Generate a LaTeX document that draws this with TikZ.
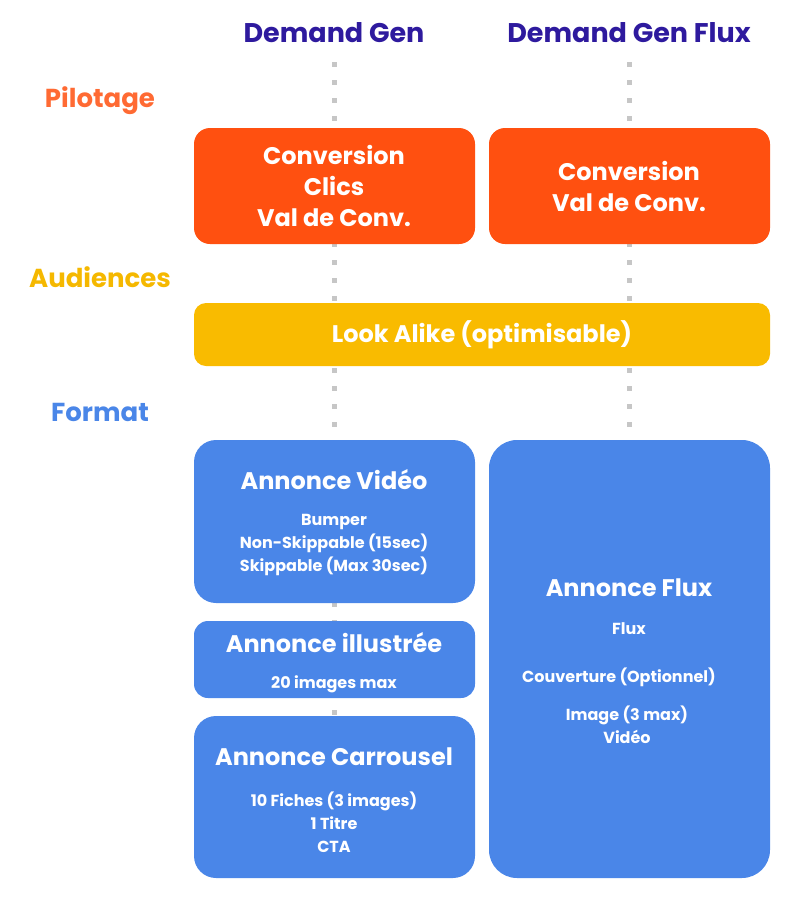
\documentclass[tikz,border=0pt]{standalone}
\usepackage{fontspec}
\setmainfont{Poppins}
\begin{document}
\begin{tikzpicture}[x=1pt,y=-1pt,
 big/.style={font=\fontsize{24}{31}\selectfont\bfseries},
 sm/.style={font=\fontsize{16}{23}\selectfont\bfseries},
 lab/.style={font=\fontsize{26}{30}\selectfont\bfseries},
 hd/.style={font=\fontsize{27}{30}\selectfont\bfseries},
 dots/.style={draw=gray!45,line width=5pt,dash pattern=on 5pt off 13pt}]
\definecolor{og}{HTML}{FF5010}\definecolor{yl}{HTML}{F9BB00}\definecolor{bl}{HTML}{4A86E8}
\definecolor{pu}{HTML}{2E1A9E}\definecolor{ol}{HTML}{FF6A33}\definecolor{yt}{HTML}{F5B800}
\useasboundingbox (0,0) rectangle (801,900);
\coordinate (t1) at (334,62); \coordinate (b1) at (334,716);
\coordinate (t2) at (629,62); \coordinate (b2) at (629,440);
\draw[dots] (t1) -- (b1); \draw[dots] (t2) -- (b2);
\node[hd,text=pu] (h1) at (334,33) {Demand Gen};
\node[hd,text=pu] (h2) at (629,33) {Demand Gen Flux};
\node[lab,text=ol] (p) at (100,101) {Pilotage};
\node[lab,text=yt] (a) at (100,277) {Audiences};
\node[lab,text=bl] (f) at (100,412) {Format};
\fill[og,rounded corners=16pt] (194,128) rectangle (475,244);
\node[big,text=white,align=center] (c1) at (334,186) {Conversion\\Clics\\Val de Conv.};
\fill[og,rounded corners=16pt] (489,128) rectangle (770,244);
\node[big,text=white,align=center] (c2) at (629,186) {Conversion\\Val de Conv.};
\fill[yl,rounded corners=12pt] (194,303) rectangle (770,366);
\node[big,text=white] (la) at (482,335) {Look Alike (optimisable)};
\fill[bl,rounded corners=22pt] (194,440) rectangle (475,603);
\node[big,text=white] (v) at (334,480) {Annonce Vidéo};
\node[sm,text=white,align=center] (vt) at (334,545) {Bumper\\Non-Skippable (15sec)\\Skippable (Max 30sec)};
\fill[bl,rounded corners=14pt] (194,621) rectangle (475,698);
\node[big,text=white] (i) at (334,643) {Annonce illustrée};
\node[sm,text=white] (it) at (334,684) {20 images max};
\fill[bl,rounded corners=22pt] (194,716) rectangle (475,878);
\node[big,text=white] (r) at (334,757) {Annonce Carrousel};
\node[sm,text=white,align=center] (rt) at (334,822) {10 Fiches (3 images)\\1 Titre\\CTA};
\fill[bl,rounded corners=28pt] (489,440) rectangle (770,878);
\node[big,text=white] (fx) at (629,588) {Annonce Flux};
\node[sm,text=white] (f1) at (629,629) {Flux};
\node[sm,text=white] (f2) at (619,677) {Couverture (Optionnel)};
\node[sm,text=white,align=center] (f3) at (627,725) {Image (3 max)\\Vidéo};
\end{tikzpicture}
\end{document}
